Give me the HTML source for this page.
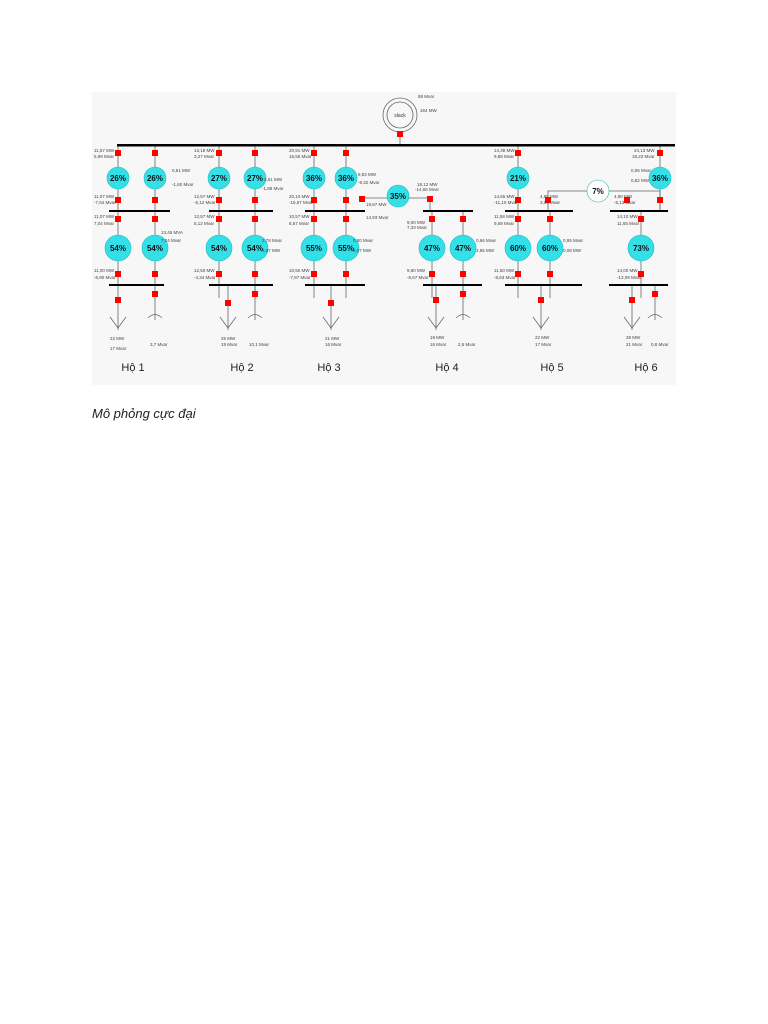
<!DOCTYPE html>
<html><head><meta charset="utf-8"><style>
body{margin:0;background:#fff;width:768px;height:1024px;position:relative;font-family:"Liberation Sans",sans-serif}
svg{position:absolute;left:0;top:0}
.t{font-size:4.5px;fill:#444}
.p{font-size:8px;font-weight:bold;fill:#111;text-anchor:middle}
.h{font-size:11px;fill:#222;text-anchor:middle}
</style></head><body>
<svg width="768" height="1024" viewBox="0 0 768 1024">
<rect x="92" y="92" width="584" height="293" fill="#f7f7f7"/>
<g stroke="#666" stroke-width="0.8" fill="none">
<!-- vertical lines -->
<path d="M118 145V298M155 145V298M219 145V298M255 145V298M314 145V298M346 145V298M432 210V298M463 210V298M518 145V298M550 210V298M641 210V298M660 145V210"/>
<path d="M118 298V330M155 298V320M228 285V330M255 285V320M331 285V330M436 285V330M463 285V320M541 285V330M632 285V330M655 285V320"/>
<path d="M362 198H430V210M548 210V191H660V210"/>
<circle cx="400" cy="115" r="17"/><circle cx="400" cy="115" r="13"/>
<path d="M400 132V145"/>
</g>
<g stroke="#666" stroke-width="0.8" fill="none">
<path d="M110 317L118 328L126 317M220 317L228 328L236 317M323 317L331 328L339 317M428 317L436 328L444 317M533 317L541 328L549 317M624 317L632 328L640 317"/>
<path d="M148 318Q155 311 162 318M248 318Q255 311 262 318M456 318Q463 311 470 318M648 318Q655 311 662 318"/>
</g>
<text x="400" y="117" font-size="5" text-anchor="middle" fill="#333">slack</text>
<!-- buses -->
<g fill="#000">
<rect x="117" y="144" width="558" height="2.5"/>
<rect x="109" y="210" width="61" height="2"/><rect x="209" y="210" width="64" height="2"/><rect x="305" y="210" width="60" height="2"/>
<rect x="423" y="210" width="50" height="2"/><rect x="505" y="210" width="68" height="2"/><rect x="610" y="210" width="58" height="2"/>
<rect x="109" y="284" width="55" height="2"/><rect x="209" y="284" width="64" height="2"/><rect x="305" y="284" width="60" height="2"/>
<rect x="423" y="284" width="59" height="2"/><rect x="505" y="284" width="77" height="2"/><rect x="609" y="284" width="59" height="2"/>
</g>
<!-- circles -->
<g fill="#33e0e8" stroke="#2bb" stroke-width="0.6">
<circle cx="118" cy="178" r="11"/><circle cx="155" cy="178" r="11"/><circle cx="219" cy="178" r="11"/><circle cx="255" cy="178" r="11"/>
<circle cx="314" cy="178" r="11"/><circle cx="346" cy="178" r="11"/><circle cx="518" cy="178" r="11"/><circle cx="660" cy="178" r="11"/>
<circle cx="398" cy="196" r="11"/>
<circle cx="118" cy="248" r="13"/><circle cx="155" cy="248" r="13"/><circle cx="219" cy="248" r="13"/><circle cx="255" cy="248" r="13"/>
<circle cx="314" cy="248" r="13"/><circle cx="346" cy="248" r="13"/><circle cx="432" cy="248" r="13"/><circle cx="463" cy="248" r="13"/>
<circle cx="518" cy="248" r="13"/><circle cx="550" cy="248" r="13"/><circle cx="641" cy="248" r="13"/>
</g>
<circle cx="598" cy="191" r="11" fill="#fff" stroke="#2bb" stroke-width="0.6"/>
<g class="p">
<text x="118" y="181">26%</text><text x="155" y="181">26%</text><text x="219" y="181">27%</text><text x="255" y="181">27%</text>
<text x="314" y="181">36%</text><text x="346" y="181">36%</text><text x="518" y="181">21%</text><text x="660" y="181">36%</text>
<text x="398" y="199">35%</text><text x="598" y="194">7%</text>
<text x="118" y="251">54%</text><text x="155" y="251">54%</text><text x="219" y="251">54%</text><text x="255" y="251">54%</text>
<text x="314" y="251">55%</text><text x="346" y="251">55%</text><text x="432" y="251">47%</text><text x="463" y="251">47%</text>
<text x="518" y="251">60%</text><text x="550" y="251">60%</text><text x="641" y="251">73%</text>
</g>
<!-- red boxes -->
<g fill="#f00">
<rect x="397" y="131" width="6" height="6"/>
<rect x="115" y="150" width="6" height="6"/><rect x="152" y="150" width="6" height="6"/><rect x="216" y="150" width="6" height="6"/><rect x="252" y="150" width="6" height="6"/>
<rect x="311" y="150" width="6" height="6"/><rect x="343" y="150" width="6" height="6"/><rect x="515" y="150" width="6" height="6"/><rect x="657" y="150" width="6" height="6"/>
<rect x="115" y="197" width="6" height="6"/><rect x="152" y="197" width="6" height="6"/><rect x="216" y="197" width="6" height="6"/><rect x="252" y="197" width="6" height="6"/>
<rect x="311" y="197" width="6" height="6"/><rect x="343" y="197" width="6" height="6"/><rect x="359" y="196" width="6" height="6"/><rect x="427" y="196" width="6" height="6"/>
<rect x="515" y="197" width="6" height="6"/><rect x="545" y="197" width="6" height="6"/><rect x="624" y="197" width="6" height="6"/><rect x="657" y="197" width="6" height="6"/>
<rect x="115" y="216" width="6" height="6"/><rect x="152" y="216" width="6" height="6"/><rect x="216" y="216" width="6" height="6"/><rect x="252" y="216" width="6" height="6"/>
<rect x="311" y="216" width="6" height="6"/><rect x="343" y="216" width="6" height="6"/><rect x="429" y="216" width="6" height="6"/><rect x="460" y="216" width="6" height="6"/>
<rect x="515" y="216" width="6" height="6"/><rect x="547" y="216" width="6" height="6"/><rect x="638" y="216" width="6" height="6"/>
<rect x="115" y="271" width="6" height="6"/><rect x="152" y="271" width="6" height="6"/><rect x="216" y="271" width="6" height="6"/><rect x="252" y="271" width="6" height="6"/>
<rect x="311" y="271" width="6" height="6"/><rect x="343" y="271" width="6" height="6"/><rect x="429" y="271" width="6" height="6"/><rect x="460" y="271" width="6" height="6"/>
<rect x="515" y="271" width="6" height="6"/><rect x="547" y="271" width="6" height="6"/><rect x="638" y="271" width="6" height="6"/>
<rect x="115" y="297" width="6" height="6"/><rect x="152" y="291" width="6" height="6"/><rect x="225" y="300" width="6" height="6"/><rect x="252" y="291" width="6" height="6"/>
<rect x="328" y="300" width="6" height="6"/><rect x="433" y="297" width="6" height="6"/><rect x="460" y="291" width="6" height="6"/><rect x="538" y="297" width="6" height="6"/>
<rect x="629" y="297" width="6" height="6"/><rect x="652" y="291" width="6" height="6"/>
</g>
<g class="t">
<text x="418" y="98">88 Mvar</text><text x="420" y="112">164 MW</text>
<text x="94" y="152">11,57 MW</text><text x="94" y="158">5,99 Mvar</text>
<text x="172" y="172">0,51 MW</text><text x="172" y="186">-1,60 Mvar</text>
<text x="94" y="198">11,07 MW</text><text x="94" y="204">-7,64 Mvar</text>
<text x="94" y="218">11,07 MW</text><text x="94" y="225">7,04 Mvar</text>
<text x="161" y="234">13,45 MVA</text><text x="161" y="242">7,04 Mvar</text>
<text x="94" y="272">11,00 MW</text><text x="94" y="279">-6,90 Mvar</text>
<text x="110" y="340">22 MW</text><text x="110" y="350">17 Mvar</text><text x="150" y="346">3,7 Mvar</text>
<text x="194" y="152">13,18 MW</text><text x="194" y="158">3,27 Mvar</text>
<text x="264" y="181">3,61 MW</text><text x="262" y="190">-1,88 Mvar</text>
<text x="194" y="198">12,57 MW</text><text x="194" y="204">-5,12 Mvar</text>
<text x="194" y="218">12,57 MW</text><text x="194" y="225">5,12 Mvar</text>
<text x="262" y="242">3,78 Mvar</text><text x="262" y="252">3,87 MW</text>
<text x="194" y="272">12,50 MW</text><text x="194" y="279">-4,34 Mvar</text>
<text x="221" y="340">25 MW</text><text x="221" y="346">19 Mvar</text><text x="249" y="346">10,1 Mvar</text>
<text x="289" y="152">20,91 MW</text><text x="289" y="158">15,55 Mvar</text>
<text x="358" y="176">9,83 MW</text><text x="358" y="184">-8,32 Mvar</text>
<text x="289" y="198">20,10 MW</text><text x="289" y="204">-15,97 Mvar</text>
<text x="366" y="206">19,67 MW</text><text x="366" y="219">14,93 Mvar</text>
<text x="289" y="218">10,57 MW</text><text x="289" y="225">8,67 Mvar</text>
<text x="353" y="242">0,80 Mvar</text><text x="353" y="252">8,07 MW</text>
<text x="289" y="272">10,50 MW</text><text x="289" y="279">-7,87 Mvar</text>
<text x="325" y="340">21 MW</text><text x="325" y="346">16 Mvar</text>
<text x="417" y="186">18,12 MW</text><text x="415" y="191">-14,65 Mvar</text>
<text x="407" y="224">9,00 MW</text><text x="407" y="229">7,33 Mvar</text>
<text x="476" y="242">0,66 Mvar</text><text x="476" y="252">3,86 MW</text>
<text x="407" y="272">9,80 MW</text><text x="407" y="279">-8,67 Mvar</text>
<text x="430" y="339">19 MW</text><text x="430" y="346">16 Mvar</text><text x="458" y="346">2,5 Mvar</text>
<text x="494" y="152">14,38 MW</text><text x="494" y="158">9,88 Mvar</text>
<text x="494" y="198">14,65 MW</text><text x="494" y="204">-11,10 Mvar</text>
<text x="540" y="198">4,85 MW</text><text x="540" y="204">3,04 Mvar</text>
<text x="494" y="218">11,58 MW</text><text x="494" y="225">9,59 Mvar</text>
<text x="563" y="242">0,95 Mvar</text><text x="563" y="252">0,08 MW</text>
<text x="494" y="272">11,50 MW</text><text x="494" y="279">-8,63 Mvar</text>
<text x="535" y="339">22 MW</text><text x="535" y="346">17 Mvar</text>
<text x="634" y="152">24,13 MW</text><text x="632" y="158">18,23 Mvar</text>
<text x="631" y="172">0,05 Mvar</text><text x="631" y="182">0,82 MW</text>
<text x="614" y="198">4,90 MW</text><text x="614" y="204">-5,13 Mvar</text>
<text x="617" y="218">14,10 MW</text><text x="617" y="225">11,65 Mvar</text>
<text x="617" y="272">14,00 MW</text><text x="617" y="279">-13,09 Mvar</text>
<text x="626" y="339">28 MW</text><text x="626" y="346">21 Mvar</text><text x="651" y="346">0,8 Mvar</text>
</g>
<g class="h">
<text x="133" y="371">Hộ 1</text><text x="242" y="371">Hộ 2</text><text x="329" y="371">Hộ 3</text>
<text x="447" y="371">Hộ 4</text><text x="552" y="371">Hộ 5</text><text x="646" y="371">Hộ 6</text>
</g>
<text x="92" y="418" font-size="13" font-style="italic" fill="#222">Mô phỏng cực đại</text>
</svg>
</body></html>
